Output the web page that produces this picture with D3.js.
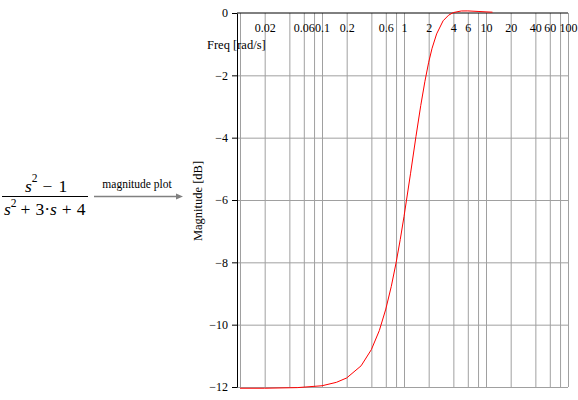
<!DOCTYPE html>
<html><head><meta charset="utf-8">
<script src="https://cdn.jsdelivr.net/npm/d3@7"></script>
<style>
body{margin:0;background:#fff;}
svg{font-family:"Liberation Serif","Times New Roman",serif;}
</style></head>
<body><svg id="c" width="578" height="400"></svg>
<script>
// data
const freq = [0.01,0.02,0.05,0.1,0.15,0.2,0.3,0.4,0.5,0.6,0.7,0.8,0.9,1.0,1.2,1.4,1.6,1.8,2.0,2.2,2.5,3,3.5,4,5,6,8,10,12];
const magDb = [-12.04,-12.04,-12.02,-11.96,-11.85,-11.71,-11.32,-10.80,-10.19,-9.50,-8.77,-8.02,-7.27,-6.53,-5.16,-3.96,-2.97,-2.19,-1.58,-1.13,-0.67,-0.25,-0.07,0.015,0.065,0.067,0.05,0.036,0.027];
const xGrid = [0.01,0.02,0.04,0.06,0.08,0.1,0.2,0.4,0.6,0.8,1,2,4,6,8,10,20,40,60,80,100];
const xLabels = [0.02,0.06,0.1,0.2,0.6,1,2,4,6,10,20,40,60,100];
const yTicks = [0,-2,-4,-6,-8,-10,-12];

const svg = d3.select("#c");
const x = d3.scaleLog().domain([0.01,100]).range([240,568]);
const y = d3.scaleLinear().domain([-12,0]).range([387,13]);
const axX = 237;

// vertical grid
const gx = svg.append("g").attr("transform","translate(0,13)")
  .call(d3.axisBottom(x).tickValues(xGrid).tickSize(374).tickFormat(""));
gx.select(".domain").remove();
gx.selectAll("line").attr("stroke","#a0a0a0");

// horizontal grid
const gy = svg.append("g").attr("transform",`translate(${axX},0)`)
  .call(d3.axisRight(y).tickValues(yTicks.slice(1)).tickSize(568-axX).tickFormat(""));
gy.select(".domain").remove();
gy.selectAll("line").attr("stroke","#a0a0a0");

// x labels
const lx = svg.append("g").attr("transform","translate(0,13)")
  .call(d3.axisBottom(x).tickValues(xLabels).tickSize(0).tickPadding(10).tickFormat(d=>String(d)));
lx.select(".domain").remove();
lx.selectAll("text").attr("font-size",12).attr("font-family","Liberation Serif").attr("fill","#000");

// y axis
const ay = svg.append("g").attr("transform",`translate(${axX},0)`)
  .call(d3.axisLeft(y).tickValues(yTicks).tickSize(5).tickSizeOuter(0).tickPadding(4)
    .tickFormat(d=> d<0 ? "\u2212"+Math.abs(d) : String(d)));
ay.select(".domain").attr("stroke","#000");
ay.selectAll("line").attr("stroke","#000");
ay.selectAll("text").attr("font-size",12).attr("font-family","Liberation Serif").attr("fill","#000");

// top axis line
svg.append("line").attr("x1",axX).attr("x2",568).attr("y1",13).attr("y2",13).attr("stroke","#000");

// curve
svg.append("path").datum(freq.map((f,i)=>[f,magDb[i]]))
  .attr("fill","none").attr("stroke","#ff0000").attr("stroke-width",1)
  .attr("d", d3.line().x(d=>x(d[0])).y(d=>y(d[1])));

// axis titles
svg.append("text").attr("x",207).attr("y",49).attr("font-size",12.5).text("Freq [rad/s]");
svg.append("text").attr("transform","translate(202,201) rotate(-90)").attr("text-anchor","middle")
  .attr("font-size",12.5).text("Magnitude [dB]");

// formula
const num = svg.append("text").attr("x",25).attr("y",192).attr("font-size",17.5);
num.append("tspan").attr("font-style","italic").text("s");
num.append("tspan").attr("font-size",11.5).attr("dy",-10).text("2");
num.append("tspan").attr("dy",10).attr("dx",5).text("\u2212");
num.append("tspan").attr("dx",6).text("1");
const den = svg.append("text").attr("x",4).attr("y",214.5).attr("font-size",17.5);
den.append("tspan").attr("font-style","italic").text("s");
den.append("tspan").attr("font-size",11.5).attr("dy",-8).text("2");
den.append("tspan").attr("dy",8).attr("dx",4).text("+");
den.append("tspan").attr("dx",5).text("3\u00b7");
den.append("tspan").attr("font-style","italic").text("s");
den.append("tspan").attr("dx",5).text("+");
den.append("tspan").attr("dx",5).text("4");
svg.append("line").attr("x1",2).attr("x2",88).attr("y1",196.5).attr("y2",196.5).attr("stroke","#000");

// arrow
svg.append("line").attr("x1",94).attr("x2",178).attr("y1",196.5).attr("y2",196.5).attr("stroke","#808080").attr("stroke-width",1.5);
svg.append("path").attr("d","M176,193.5 L183,196.5 L176,199.5 Z").attr("fill","#808080");
svg.append("text").attr("x",137).attr("y",188).attr("text-anchor","middle").attr("font-size",11.5).text("magnitude plot");
</script></body></html>
